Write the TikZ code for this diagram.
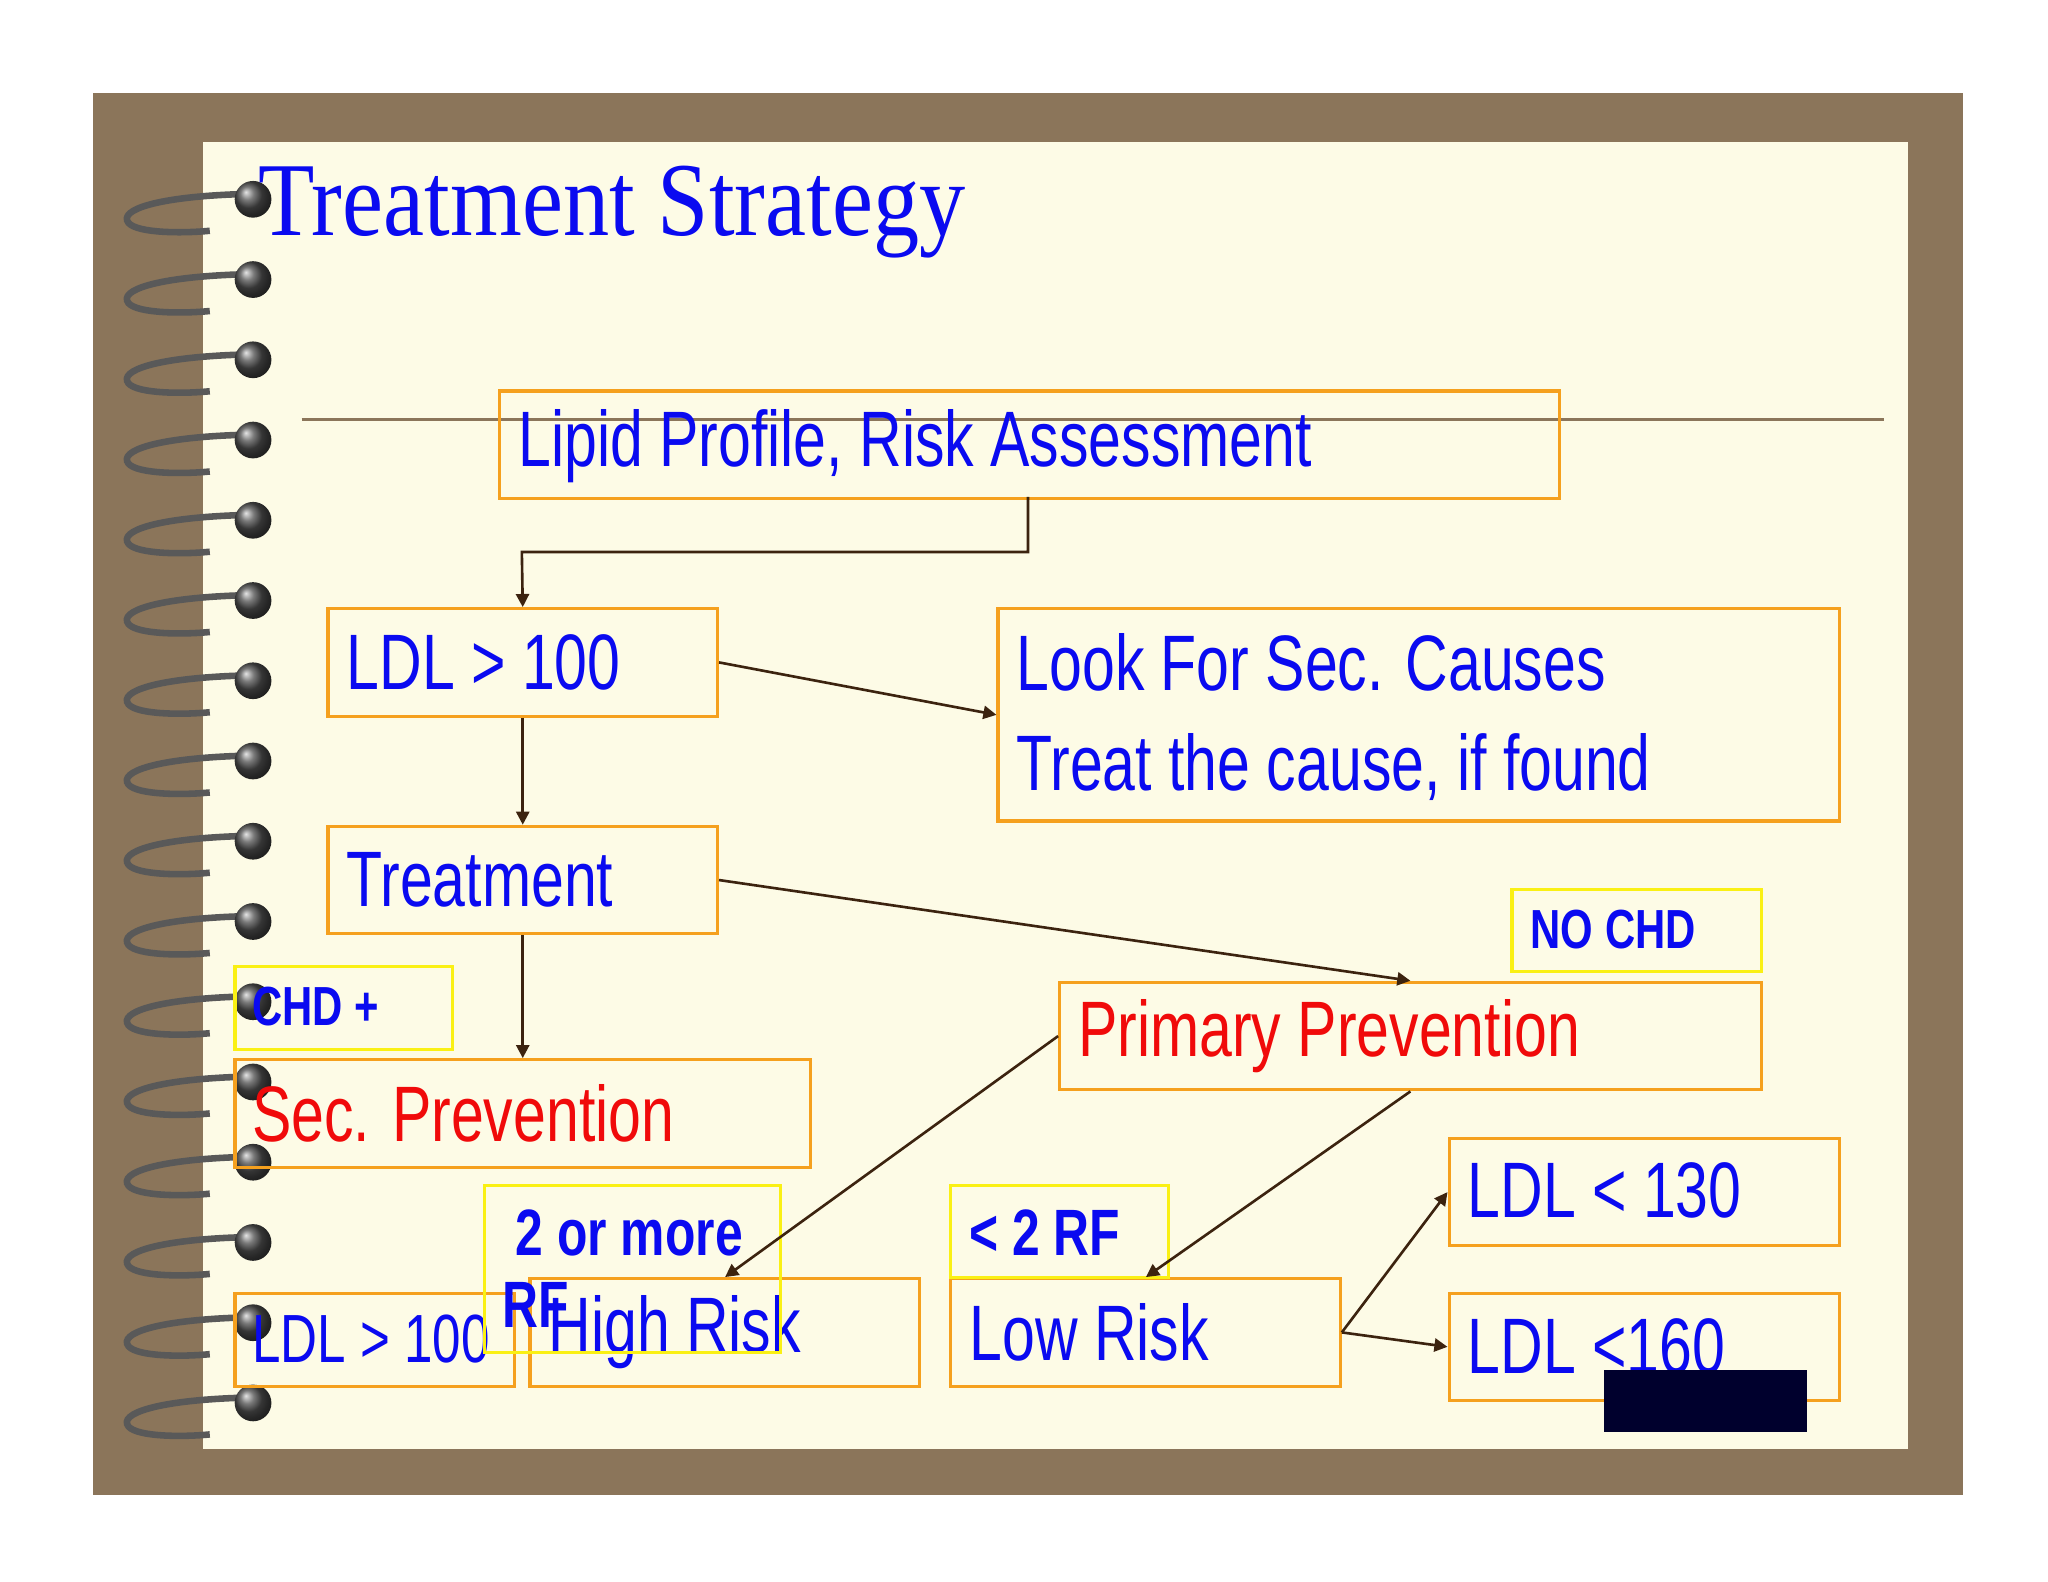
\documentclass[tikz,border=0pt]{standalone}
\usepackage{fontspec}
\setmainfont{Liberation Sans}
\newfontfamily\ttlfont{Liberation Serif}
\usetikzlibrary{arrows.meta}
\definecolor{frame}{RGB}{139,117,90}
\definecolor{page}{RGB}{253,251,230}
\definecolor{obox}{RGB}{245,160,30}
\definecolor{ybox}{RGB}{250,240,20}
\definecolor{tblue}{RGB}{10,10,240}
\definecolor{tred}{RGB}{240,10,10}
\definecolor{arr}{RGB}{60,35,15}
\newcommand{\nar}[1]{\scalebox{0.75}[1]{#1}}
\newcommand{\nab}[1]{\scalebox{0.76}[1]{#1}}
\tikzset{
 box/.style={draw=obox,line width=1.2pt,anchor=north west,inner sep=0pt},
 ybx/.style={draw=ybox,line width=1.2pt,anchor=north west,inner sep=0pt},
 txt/.style={anchor=west,inner sep=0pt,text=tblue,font=\fontsize{30}{34}\selectfont},
 rtxt/.style={txt,text=tred},
 btxt/.style={anchor=west,inner sep=0pt,text=tblue,font=\fontsize{21}{24}\selectfont\bfseries},
 con/.style={draw=arr,line width=1pt,-{Triangle[length=5pt,width=5pt]}}
}
\begin{document}
\begin{tikzpicture}[x=0.5pt,y=-0.5pt]
\useasboundingbox (0,0) rectangle (1562,1206);
\fill[white] (0,0) rectangle (1562,1206);
\fill[frame] (71,71) rectangle (1497,1140);
\fill[page] (155,108) rectangle (1455,1105);
% spiral rings
\foreach \i in {0,...,15}{
 \pgfmathsetmacro{\yy}{148+61.2*\i}
 \draw[gray!70!black,line width=2.5pt] (185,\yy) .. controls (120,\yy+2) and (90,\yy+12) .. (98,\yy+22) .. controls (105,\yy+30) and (140,\yy+30) .. (160,\yy+28);
 \shade[ball color=black!70] (193,\yy+4) circle (14);
}
\node[anchor=west,inner sep=0pt,text=tblue,font=\ttlfont\fontsize{40}{44}\selectfont] (title) at (197,162) {\scalebox{0.88}[1]{Treatment Strategy}};
\draw[frame,line width=1pt] (230,320) -- (1437,320);
% boxes
\node[box,minimum width=404pt,minimum height=41pt] (lip) at (380,297) {};
\node[txt] at (395,340) {\nar{Lipid Profile, Risk Assessment}};
\node[box,minimum width=148.5pt,minimum height=41pt] (ldl) at (249,463) {};
\node[txt] at (264,505) {\nar{LDL > 100}};
\node[box,minimum width=321pt,minimum height=81pt] (look) at (760,463) {};
\node[txt] at (775,505) {\nar{Look For Sec. Causes}};
\node[txt] at (775,585) {\nar{Treat the cause, if found}};
\node[box,minimum width=148.5pt,minimum height=41pt] (treat) at (249,629) {};
\node[txt] at (264,671) {\nar{Treatment}};
\node[ybx,minimum width=95pt,minimum height=31.5pt] (nochd) at (1152,677) {};
\node[btxt] at (1167,709) {\nab{NO CHD}};
\node[ybx,minimum width=83pt,minimum height=31.5pt] (chd) at (178,736) {};
\node[btxt] at (192,768) {\nab{CHD +}};
\node[box,minimum width=267.5pt,minimum height=41pt] (prim) at (807,748) {};
\node[rtxt] at (822,790) {\nar{Primary Prevention}};
\node[box,minimum width=219.5pt,minimum height=41pt] (sec) at (178,807) {};
\node[rtxt] at (192,849) {\nar{Sec. Prevention}};
\node[box,minimum width=149pt,minimum height=41pt] (l130) at (1104,867) {};
\node[txt] at (1119,908) {\nar{LDL < 130}};
\node[box,minimum width=106.5pt,minimum height=35.5pt] (lb) at (178,985) {};
\node[txt,font=\fontsize{26}{30}\selectfont] at (192,1021) {\nar{LDL > 100}};
\node[box,minimum width=148.5pt,minimum height=41pt] (high) at (403,974) {};
\node[txt] at (418,1016) {\nar{High Risk}};
\node[box,minimum width=148.5pt,minimum height=41pt] (low) at (724,974) {};
\node[txt] at (739,1016) {\nar{Low Risk}};
\node[box,minimum width=149pt,minimum height=41pt] (l160) at (1104,985) {};
\node[txt] at (1119,1027) {\nar{LDL <160}};
\node[ybx,minimum width=113pt,minimum height=63.5pt] (more) at (368,903) {};
\node[btxt,font=\fontsize{25}{28}\selectfont\bfseries] at (393,940) {\nab{2 or more}};
\node[btxt,font=\fontsize{25}{28}\selectfont\bfseries] at (383,995) {\nab{RF}};
\node[ybx,minimum width=83pt,minimum height=35pt] (few) at (724,903) {};
\node[btxt,font=\fontsize{25}{28}\selectfont\bfseries] at (739,940) {\nab{< 2 RF}};
\fill[black!30!blue!25!black] (1223,1045) rectangle (1378,1092);
% connectors
\coordinate (c1) at (784,421);
\coordinate (c2) at (398,421);
\draw[con] (784,379) -- (c1) -- (c2) -- (ldl.north);
\draw[con] (ldl.east) -- (look.west);
\draw[con] (ldl.south) -- (treat.north);
\draw[con] (treat.east) -- (prim.north);
\draw[con] (treat.south) -- (sec.north -| treat.south);
\draw[con] (prim.west) -- (553,974);
\draw[con] (prim.south) -- (874,974);
\draw[con] (low.east) -- (l130.west);
\draw[con] (low.east) -- (l160.west);
\end{tikzpicture}
\end{document}
